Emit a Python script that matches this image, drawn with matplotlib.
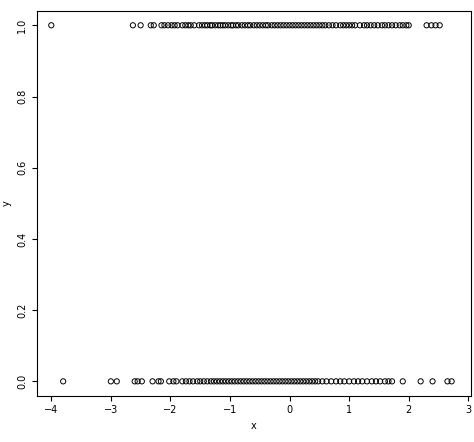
import matplotlib.pyplot as plt

# x values of the points at y = 1
x_top = [-4.0, -2.63, -2.5, -2.33, -2.28, -2.15, -2.1, -2.04, -1.98, -1.93, -1.88,
         -1.8, -1.75, -1.7, -1.66, -1.6, -1.52, -1.47, -1.42, -1.38, -1.33, -1.3,
         -1.25, -1.2, -1.16, -1.12, -1.08, -1.03, -0.98, -0.95, -0.9, -0.86, -0.8,
         -0.75, -0.7, -0.66, -0.6, -0.55, -0.5, -0.45, -0.4, -0.36, -0.3, -0.25,
         -0.2, -0.15, -0.1, -0.05, 0.0, 0.05, 0.1, 0.15, 0.2, 0.25, 0.3, 0.35,
         0.4, 0.45, 0.5, 0.55, 0.6, 0.66, 0.72, 0.78, 0.85, 0.9, 0.95, 1.0, 1.05,
         1.1, 1.18, 1.25, 1.3, 1.36, 1.42, 1.48, 1.55, 1.6, 1.66, 1.72, 1.78,
         1.85, 1.9, 1.96, 2.0, 2.3, 2.38, 2.45, 2.52]
# x values of the points at y = 0
x_bot = [-3.8, -3.0, -2.9, -2.6, -2.55, -2.48, -2.3, -2.2, -2.16, -2.02, -1.95,
         -1.9, -1.8, -1.74, -1.68, -1.62, -1.55, -1.5, -1.44, -1.38, -1.32, -1.27,
         -1.22, -1.17, -1.12, -1.07, -1.02, -0.97, -0.92, -0.87, -0.82, -0.77,
         -0.72, -0.67, -0.62, -0.57, -0.52, -0.47, -0.42, -0.37, -0.32, -0.27,
         -0.22, -0.17, -0.12, -0.07, -0.02, 0.03, 0.08, 0.13, 0.18, 0.23, 0.28,
         0.33, 0.38, 0.43, 0.48, 0.55, 0.62, 0.7, 0.78, 0.85, 0.92, 1.0, 1.08,
         1.15, 1.22, 1.3, 1.38, 1.45, 1.52, 1.6, 1.66, 1.72, 1.9, 2.2, 2.4,
         2.65, 2.72]
y_top = [1.0] * len(x_top)
y_bot = [0.0] * len(x_bot)

fig = plt.figure(figsize=(4.74, 4.42), dpi=100)
ax = fig.add_axes([0.078, 0.105, 0.915, 0.87])
ax.scatter(x_top + x_bot, y_top + y_bot, s=14, facecolors="none",
           edgecolors="black", linewidths=0.7)
ax.set_xlim(-4.24, 3.04)
ax.set_ylim(-0.04, 1.04)
ax.set_xticks([-4, -3, -2, -1, 0, 1, 2, 3])
ax.set_yticks([0.0, 0.2, 0.4, 0.6, 0.8, 1.0])
ax.set_yticklabels(["0.0", "0.2", "0.4", "0.6", "0.8", "1.0"], rotation=90, va="center")
ax.tick_params(labelsize=7)
ax.set_xlabel("x", fontsize=7)
ax.set_ylabel("y", fontsize=7)
fig.savefig("out.png")
